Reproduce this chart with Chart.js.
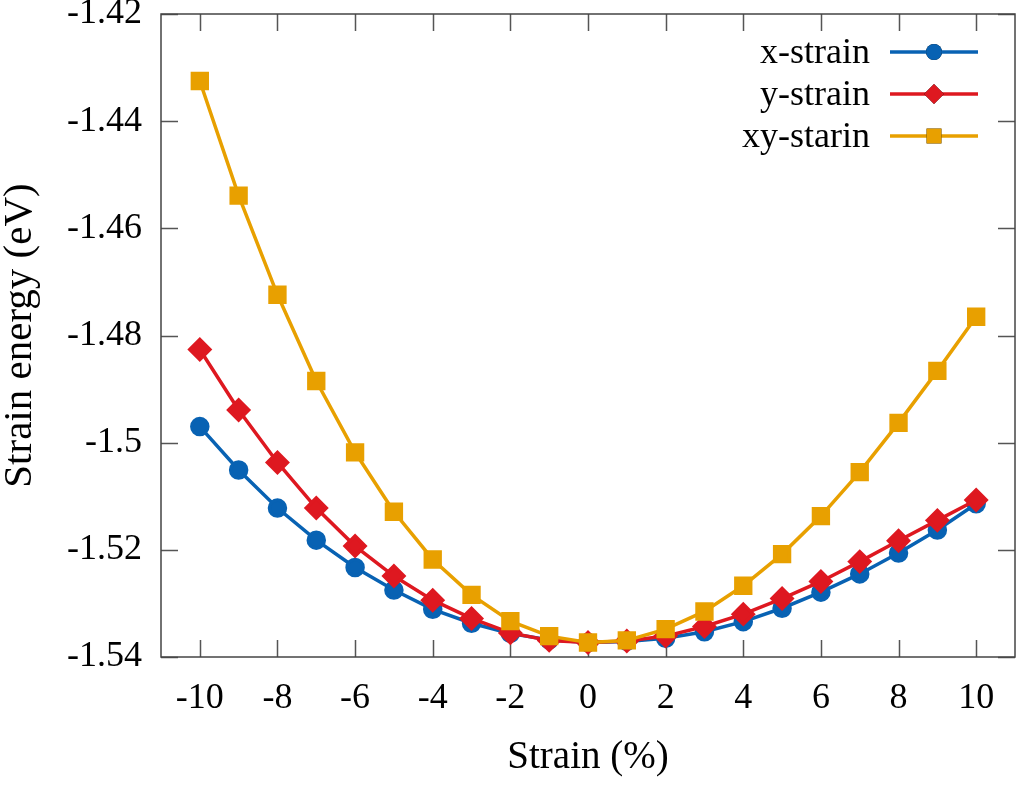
<!DOCTYPE html>
<html>
<head>
<meta charset="utf-8">
<script src="https://cdn.jsdelivr.net/npm/chart.js@4"></script>
<style>
  html, body { margin: 0; padding: 0; background: #fff; overflow: hidden; }
  #wrap { width: 1017px; height: 785px; position: relative; }
  canvas { display: block; }
</style>
</head>
<body>
<div id="wrap"><canvas id="strain"></canvas></div>
<script>
// ---- data ----
const strain = [-10, -9, -8, -7, -6, -5, -4, -3, -2, -1, 0, 1, 2, 3, 4, 5, 6, 7, 8, 9, 10];

const xStrain = [-1.4970, -1.5051, -1.5122, -1.5182, -1.5233, -1.5275, -1.5311, -1.5337, -1.5356, -1.5368, -1.5373,
                 -1.5371, -1.5365, -1.5353, -1.5334, -1.5309, -1.5279, -1.5245, -1.5206, -1.5163, -1.5114];
const yStrain = [-1.4826, -1.4939, -1.5037, -1.5122, -1.5193, -1.5249, -1.5294, -1.5328, -1.5355, -1.5369, -1.5373,
                 -1.5370, -1.5361, -1.5343, -1.5320, -1.5291, -1.5259, -1.5222, -1.5183, -1.5145, -1.5107];
const xyStrain = [-1.4325, -1.4539, -1.4724, -1.4885, -1.5018, -1.5129, -1.5218, -1.5284, -1.5333, -1.5361, -1.5373,
                  -1.5369, -1.5348, -1.5315, -1.5267, -1.5208, -1.5137, -1.5055, -1.4963, -1.4866, -1.4765];

const seriesNames = ["x-strain", "y-strain", "xy-starin"];

const xTicks = [-10, -8, -6, -4, -2, 0, 2, 4, 6, 8, 10];
const yTicks = [-1.54, -1.52, -1.5, -1.48, -1.46, -1.44, -1.42];

const FONT = "'Liberation Serif', 'Times New Roman', serif";

const toPoints = ys => strain.map((x, i) => ({ x: x, y: ys[i] }));

const noPadding = () => ({ left: 0, top: 0, right: 0, bottom: 0 });

// inward ticks on all four sides + frame, x tick labels
const frameTicks = {
    id: "frameTicks",
    beforeDatasetsDraw(chart) {
        const { ctx, chartArea: a, scales } = chart;
        const len = 17;
        ctx.save();
        ctx.strokeStyle = "#555";
        ctx.lineWidth = 1.5;
        ctx.beginPath();
        xTicks.forEach(v => {
            const px = Math.round(scales.x.getPixelForValue(v)) + 0.5;
            ctx.moveTo(px, a.bottom); ctx.lineTo(px, a.bottom - len);
            ctx.moveTo(px, a.top); ctx.lineTo(px, a.top + len);
        });
        yTicks.forEach(v => {
            const py = Math.round(scales.y.getPixelForValue(v)) + 0.5;
            ctx.moveTo(a.left, py); ctx.lineTo(a.left + len, py);
            ctx.moveTo(a.right, py); ctx.lineTo(a.right - len, py);
        });
        ctx.stroke();
        ctx.strokeStyle = "#444";
        ctx.strokeRect(a.left, a.top, a.right - a.left, a.bottom - a.top);

        ctx.fillStyle = "#000";
        ctx.font = "36px " + FONT;
        ctx.textAlign = "center";
        ctx.textBaseline = "middle";
        xTicks.forEach(v => {
            ctx.fillText(String(v), scales.x.getPixelForValue(v), a.bottom + 42);
        });
        ctx.restore();
    }
};

// legend inside the top right corner: text, then line with marker
const innerLegend = {
    id: "innerLegend",
    afterDatasetsDraw(chart) {
        const { ctx, chartArea: a } = chart;
        ctx.save();
        ctx.font = "36px " + FONT;
        ctx.textAlign = "right";
        ctx.textBaseline = "middle";
        chart.data.datasets.forEach((ds, i) => {
            const y = a.top + 38 + i * 42;
            const x1 = a.right - 125, x2 = a.right - 37;
            ctx.fillStyle = "#000";
            ctx.fillText(ds.label, x1 - 20, y + 2);
            ctx.strokeStyle = ds.borderColor;
            ctx.lineWidth = 3.5;
            ctx.beginPath();
            ctx.moveTo(x1, y); ctx.lineTo(x2, y);
            ctx.stroke();
            Chart.helpers.drawPoint(ctx, {
                pointStyle: ds.pointStyle,
                radius: ds.pointRadius,
                rotation: 0,
                borderWidth: 0
            }, (x1 + x2) / 2, y);
            ctx.fillStyle = ds.borderColor;
            ctx.fill();
        });
        ctx.restore();
    }
};

new Chart(document.getElementById("strain"), {

    type: "line",

    data: {
        datasets: [{
            label: seriesNames[0],
            data: toPoints(xStrain),
            borderColor: "#0862b3",
            backgroundColor: "#0862b3",
            pointStyle: "circle",
            pointRadius: 8,
            borderWidth: 3.5,
            order: 3
        }, {
            label: seriesNames[1],
            data: toPoints(yStrain),
            borderColor: "#de1820",
            backgroundColor: "#de1820",
            pointStyle: "rectRot",
            pointRadius: 10,
            borderWidth: 3.5,
            order: 2
        }, {
            label: seriesNames[2],
            data: toPoints(xyStrain),
            borderColor: "#e8a000",
            backgroundColor: "#e8a000",
            pointStyle: "rect",
            pointRadius: 10.5,
            borderWidth: 3.5,
            order: 1
        }]
    },

    options: {

        responsive: true,
        maintainAspectRatio: false,
        animation: false,

        layout: {
            autoPadding: false,
            padding: { top: 14, right: 2, left: 0, bottom: 0 }
        },

        elements: {
            line: { tension: 0 },
            point: { borderWidth: 0, hoverRadius: 8 }
        },

        plugins: {
            legend: { display: false },
            tooltip: { enabled: false }
        },

        scales: {

            x: {
                type: "linear",
                min: -11,
                max: 11,
                afterBuildTicks: scale => { scale.ticks = xTicks.map(v => ({ value: v })); },
                afterFit: scale => {
                    scale.height = 128;
                    scale.paddingLeft = 0;
                    scale.paddingRight = 0;
                    scale.getPadding = noPadding;
                },
                grid: { display: false, drawTicks: false },
                border: { display: false },
                ticks: { display: false },
                title: {
                    display: true,
                    text: "Strain (%)",
                    color: "#000",
                    padding: { top: 0, bottom: 4 },
                    font: { family: FONT, size: 39 }
                }
            },

            y: {
                min: -1.54,
                max: -1.42,
                afterBuildTicks: scale => { scale.ticks = yTicks.map(v => ({ value: v })); },
                afterFit: scale => {
                    scale.width = 161;
                    scale.paddingTop = 0;
                    scale.paddingBottom = 0;
                    scale.getPadding = noPadding;
                },
                grid: { display: false, drawTicks: false },
                border: { display: false },
                ticks: {
                    padding: 19,
                    color: "#000",
                    font: { family: FONT, size: 36 },
                    callback: value => String(Number(value.toFixed(2)))
                },
                title: {
                    display: true,
                    text: "Strain energy (eV)",
                    color: "#000",
                    padding: { top: 0, bottom: 0 },
                    font: { family: FONT, size: 41, lineHeight: 1.0 }
                }
            }

        }

    },

    plugins: [frameTicks, innerLegend]

});
</script>
</body>
</html>
